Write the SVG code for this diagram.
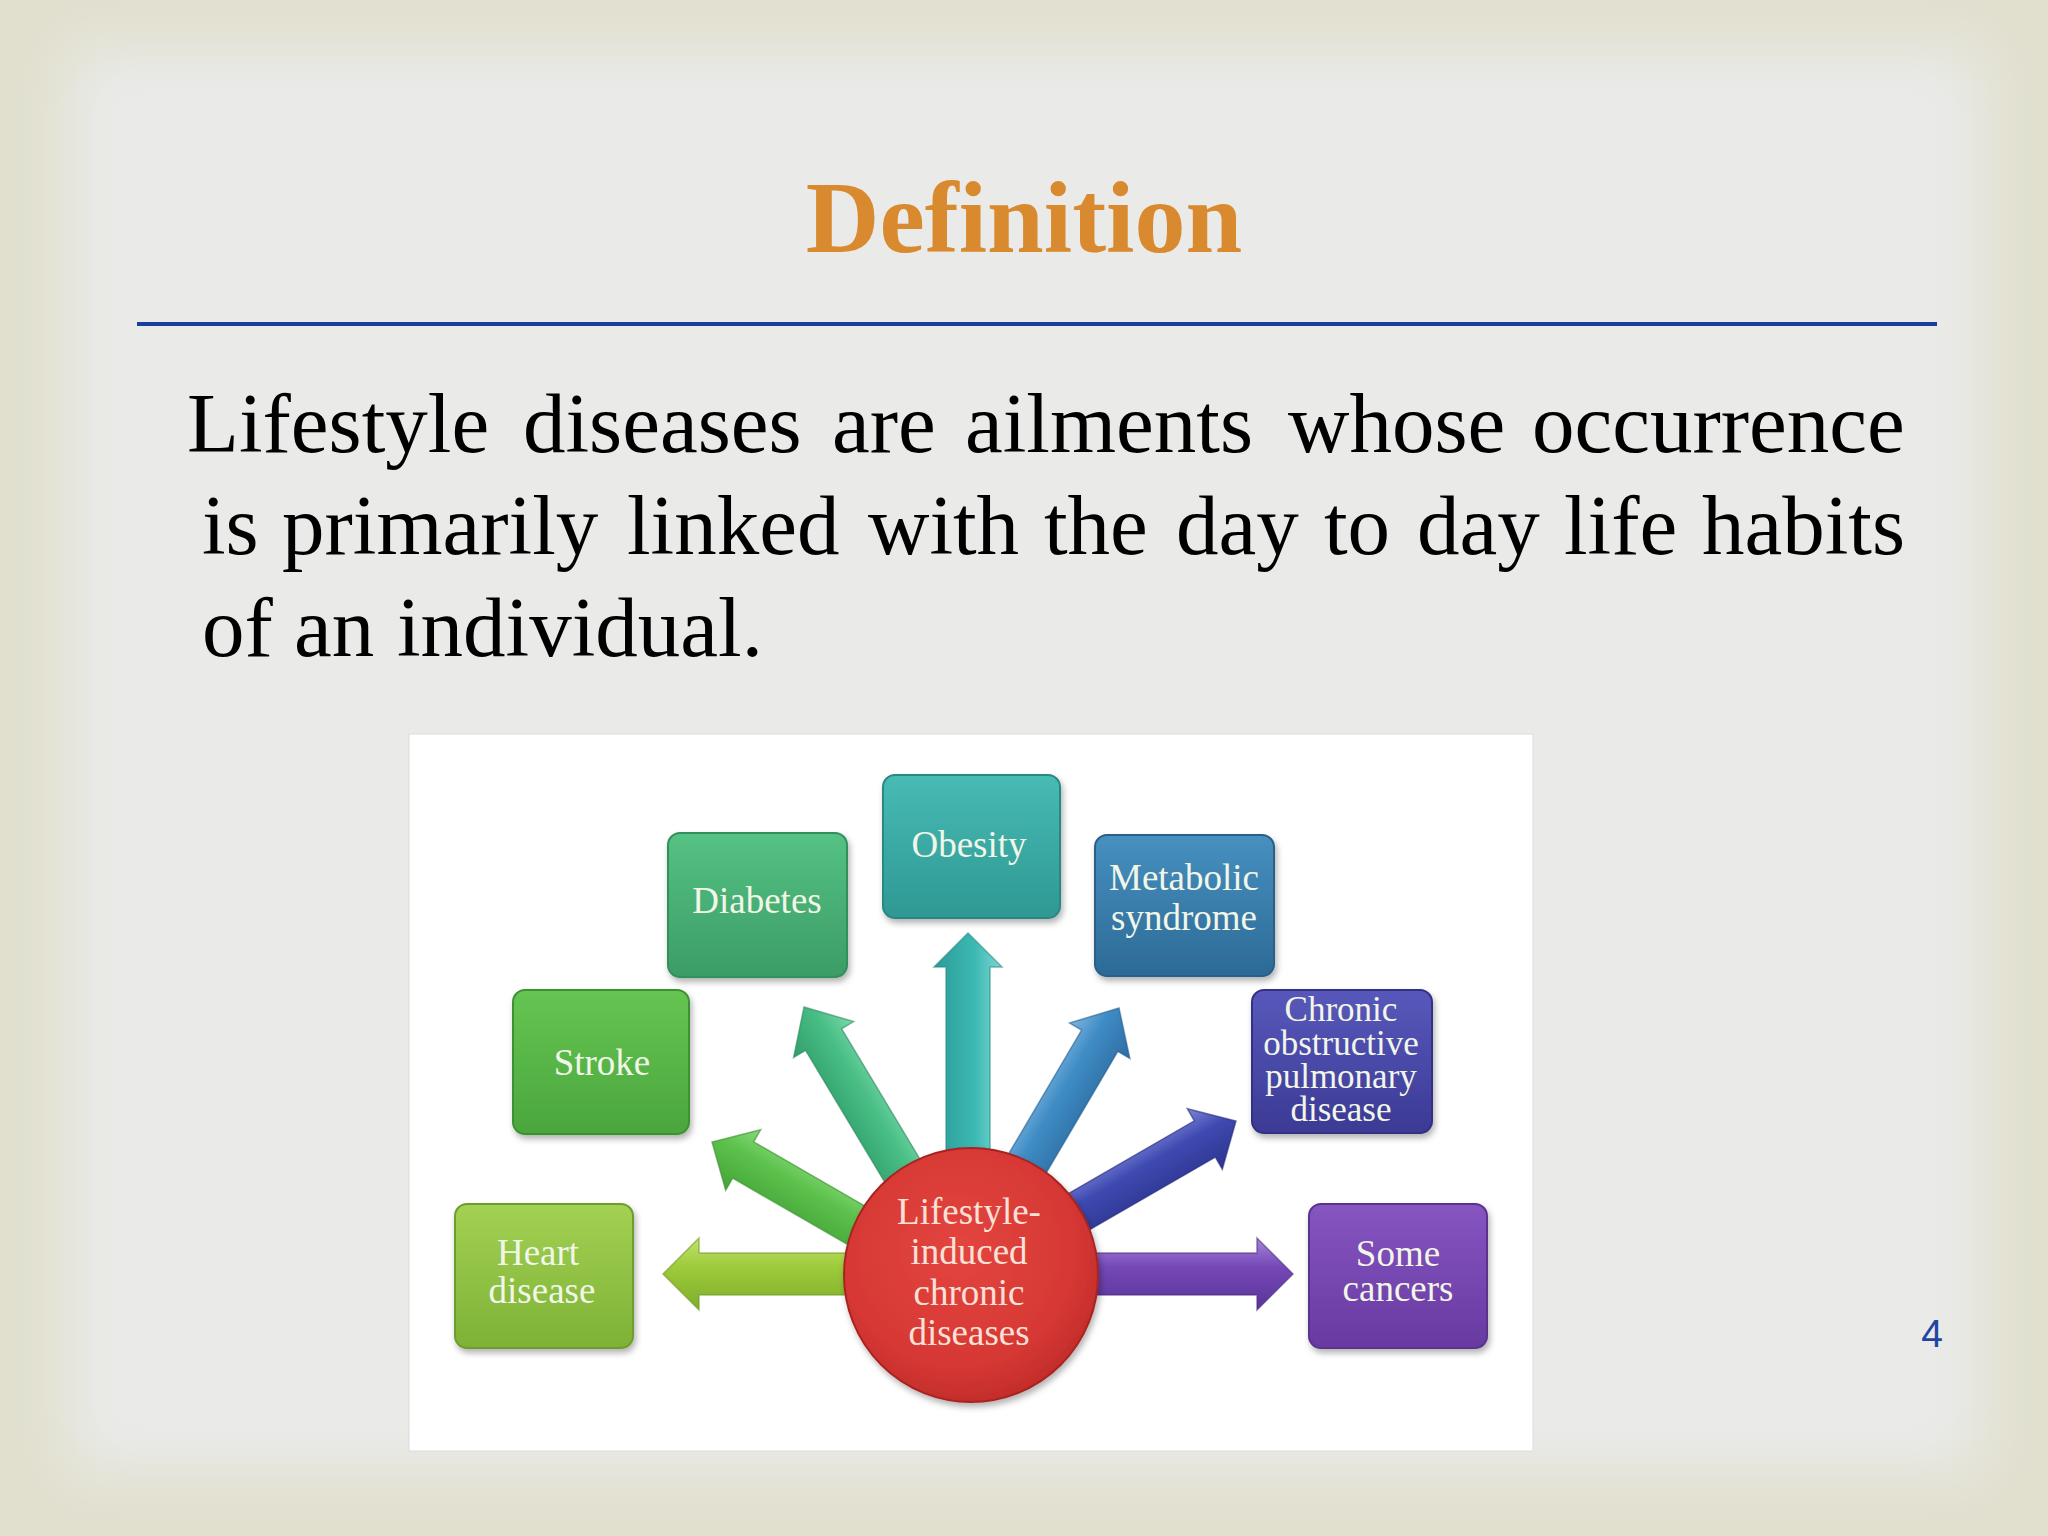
<svg xmlns="http://www.w3.org/2000/svg" width="2048" height="1536" viewBox="0 0 2048 1536">
<defs>
<filter id="soft" x="-10%" y="-10%" width="120%" height="120%"><feGaussianBlur stdDeviation="28"/></filter>
<filter id="shadow" x="-10%" y="-10%" width="130%" height="130%"><feDropShadow dx="2" dy="4" stdDeviation="3" flood-color="#000" flood-opacity="0.3"/></filter>
<linearGradient id="bHeart" x1="0" y1="0" x2="0" y2="1"><stop offset="0" stop-color="#A3D153"/><stop offset="1" stop-color="#7DB236"/></linearGradient>
<linearGradient id="bStroke" x1="0" y1="0" x2="0" y2="1"><stop offset="0" stop-color="#66C552"/><stop offset="1" stop-color="#4AA63D"/></linearGradient>
<linearGradient id="bDiab" x1="0" y1="0" x2="0" y2="1"><stop offset="0" stop-color="#55C283"/><stop offset="1" stop-color="#3B9C66"/></linearGradient>
<linearGradient id="bObes" x1="0" y1="0" x2="0" y2="1"><stop offset="0" stop-color="#47BBB4"/><stop offset="1" stop-color="#2F9893"/></linearGradient>
<linearGradient id="bMeta" x1="0" y1="0" x2="0" y2="1"><stop offset="0" stop-color="#4690C0"/><stop offset="1" stop-color="#2D6A96"/></linearGradient>
<linearGradient id="bCopd" x1="0" y1="0" x2="0" y2="1"><stop offset="0" stop-color="#5858BB"/><stop offset="1" stop-color="#3C3A95"/></linearGradient>
<linearGradient id="bCanc" x1="0" y1="0" x2="0" y2="1"><stop offset="0" stop-color="#8655C1"/><stop offset="1" stop-color="#683AA1"/></linearGradient>
<radialGradient id="gCircle" cx="0.45" cy="0.4" r="0.65"><stop offset="0" stop-color="#E3453E"/><stop offset="0.7" stop-color="#D63834"/><stop offset="1" stop-color="#BE2A28"/></radialGradient>
<linearGradient id="aHeart" x1="0" y1="0" x2="0" y2="1"><stop offset="0" stop-color="#C4E26E"/><stop offset="0.4" stop-color="#9DCB3B"/><stop offset="1" stop-color="#7EAD2B"/></linearGradient>
<linearGradient id="aStroke" x1="0" y1="0" x2="0" y2="1"><stop offset="0" stop-color="#8AD97A"/><stop offset="0.4" stop-color="#5CC24C"/><stop offset="1" stop-color="#43A438"/></linearGradient>
<linearGradient id="aDiab" x1="0" y1="0" x2="0" y2="1"><stop offset="0" stop-color="#7DD8AA"/><stop offset="0.4" stop-color="#48BE85"/><stop offset="1" stop-color="#329E6A"/></linearGradient>
<linearGradient id="aObes" x1="0" y1="0" x2="0" y2="1"><stop offset="0" stop-color="#2B9C97"/><stop offset="0.6" stop-color="#3CB9B3"/><stop offset="1" stop-color="#80D8D4"/></linearGradient>
<linearGradient id="aMeta" x1="0" y1="0" x2="0" y2="1"><stop offset="0" stop-color="#7EB6E0"/><stop offset="0.4" stop-color="#3F8CC5"/><stop offset="1" stop-color="#2D6DA2"/></linearGradient>
<linearGradient id="aCopd" x1="0" y1="0" x2="0" y2="1"><stop offset="0" stop-color="#7E87D8"/><stop offset="0.4" stop-color="#3E4AB1"/><stop offset="1" stop-color="#2D348E"/></linearGradient>
<linearGradient id="aCanc" x1="0" y1="0" x2="0" y2="1"><stop offset="0" stop-color="#A686D8"/><stop offset="0.4" stop-color="#7548B8"/><stop offset="1" stop-color="#5A3496"/></linearGradient>
</defs>
<style>
.title{font-family:"Liberation Serif","Times New Roman",serif;font-weight:bold;font-size:102px;fill:#D98A2E;text-anchor:middle}
.body{font-family:"Liberation Serif","Times New Roman",serif;font-size:85px;fill:#000}
.lbl{font-family:"Liberation Serif","Times New Roman",serif;font-size:37px;fill:#F1F6E8;text-anchor:middle}
.lbls{font-size:35px}
.clbl{font-family:"Liberation Serif","Times New Roman",serif;font-size:37px;fill:#FBE0D7;text-anchor:middle}
.box{stroke-width:2;filter:url(#shadow)}
.num{font-family:"Liberation Sans",Arial,sans-serif;font-size:39px;fill:#1F45A5;text-anchor:middle}
.arrow{stroke-width:1.5;stroke-opacity:0.6}
</style>

<!-- slide background -->
<rect x="0" y="0" width="2048" height="1536" fill="#E1E0CF"/>
<rect x="70" y="50" width="1910" height="1420" fill="#EAEAE9" filter="url(#soft)"/>

<!-- title -->
<text class="title" x="1024" y="252">Definition</text>
<line x1="137" y1="324" x2="1937" y2="324" stroke="#1A3E9E" stroke-width="4"/>

<!-- body text -->
<text class="body" y="452"><tspan x="187">Lifestyle</tspan><tspan x="523">diseases</tspan><tspan x="832">are</tspan><tspan x="965">ailments</tspan><tspan x="1288">whose</tspan><tspan x="1532">occurrence</tspan></text>
<text class="body" y="554"><tspan x="202">is</tspan><tspan x="282">primarily</tspan><tspan x="627">linked</tspan><tspan x="868">with</tspan><tspan x="1044">the</tspan><tspan x="1176">day</tspan><tspan x="1324">to</tspan><tspan x="1417">day</tspan><tspan x="1564">life</tspan><tspan x="1702">habits</tspan></text>
<text class="body" y="656"><tspan x="202">of</tspan><tspan x="294">an</tspan><tspan x="397">individual.</tspan></text>

<!-- picture panel -->
<rect x="409" y="734" width="1124" height="717" fill="#FFFFFF" stroke="#DCDCDC" stroke-width="1"/>

<!-- connectors -->
<g id="connectors">
  <g transform="translate(663,1274) rotate(180) scale(1,-1)"><path class="arrow" d="M -250,-21 H -36 V -36 L 0,0 L -36,36 V 21 H -250 Z" fill="url(#aHeart)" stroke="#6E9A25"/></g>
  <g transform="translate(1293,1274) rotate(0)"><path class="arrow" d="M -250,-21 H -36 V -36 L 0,0 L -36,36 V 21 H -250 Z" fill="url(#aCanc)" stroke="#4E2C85"/></g>
  <g transform="translate(712,1142) rotate(-150) scale(1,-1)"><path class="arrow" d="M -245,-21 H -36 V -35 L 0,0 L -36,35 V 21 H -245 Z" fill="url(#aStroke)" stroke="#3A9030"/></g>
  <g transform="translate(804,1007) rotate(-121) scale(1,-1)"><path class="arrow" d="M -270,-21 H -38 V -35 L 0,0 L -38,35 V 21 H -270 Z" fill="url(#aDiab)" stroke="#2C8A5C"/></g>
  <g transform="translate(968,933) rotate(-90)"><path class="arrow" d="M -300,-22 H -34 V -34 L 0,0 L -34,34 V 22 H -300 Z" fill="url(#aObes)" stroke="#268A85"/></g>
  <g transform="translate(1119,1008) rotate(-59.5)"><path class="arrow" d="M -265,-21 H -38 V -35 L 0,0 L -38,35 V 21 H -265 Z" fill="url(#aMeta)" stroke="#275F8E"/></g>
  <g transform="translate(1236,1121) rotate(-30)"><path class="arrow" d="M -265,-21 H -36 V -35 L 0,0 L -36,35 V 21 H -265 Z" fill="url(#aCopd)" stroke="#262C7C"/></g>
</g>

<!-- nodes -->
<g id="center">
  <ellipse cx="971" cy="1275" rx="127" ry="127" fill="url(#gCircle)" stroke="#A82422" stroke-width="2" filter="url(#shadow)"/>
  <text class="clbl"><tspan x="969" y="1224">Lifestyle-</tspan><tspan x="969" y="1264">induced</tspan><tspan x="969" y="1305">chronic</tspan><tspan x="969" y="1345">diseases</tspan></text>
</g>
<g id="obesity">
  <rect class="box" x="883" y="775" width="177" height="143" rx="12" fill="url(#bObes)" stroke="#2A8883"/>
  <text class="lbl" x="969" y="857">Obesity</text>
</g>
<g id="diabetes">
  <rect class="box" x="668" y="833" width="179" height="144" rx="12" fill="url(#bDiab)" stroke="#33905B"/>
  <text class="lbl" x="757" y="913">Diabetes</text>
</g>
<g id="metabolic">
  <rect class="box" x="1095" y="835" width="179" height="141" rx="12" fill="url(#bMeta)" stroke="#295F87"/>
  <text class="lbl"><tspan x="1184" y="890">Metabolic</tspan><tspan x="1184" y="930">syndrome</tspan></text>
</g>
<g id="stroke">
  <rect class="box" x="513" y="990" width="176" height="144" rx="12" fill="url(#bStroke)" stroke="#3E9133"/>
  <text class="lbl" x="602" y="1075">Stroke</text>
</g>
<g id="copd">
  <rect class="box" x="1252" y="990" width="180" height="143" rx="12" fill="url(#bCopd)" stroke="#333184"/>
  <text class="lbl lbls"><tspan x="1341" y="1021">Chronic</tspan><tspan x="1341" y="1055">obstructive</tspan><tspan x="1341" y="1088">pulmonary</tspan><tspan x="1341" y="1121">disease</tspan></text>
</g>
<g id="heart">
  <rect class="box" x="455" y="1204" width="178" height="144" rx="12" fill="url(#bHeart)" stroke="#6E9D2F"/>
  <text class="lbl"><tspan x="538" y="1265">Heart</tspan><tspan x="542" y="1303">disease</tspan></text>
</g>
<g id="cancers">
  <rect class="box" x="1309" y="1204" width="178" height="144" rx="12" fill="url(#bCanc)" stroke="#5B328F"/>
  <text class="lbl"><tspan x="1398" y="1266">Some</tspan><tspan x="1398" y="1301">cancers</tspan></text>
</g>

<!-- page number -->
<text class="num" x="1932" y="1347">4</text>
</svg>
